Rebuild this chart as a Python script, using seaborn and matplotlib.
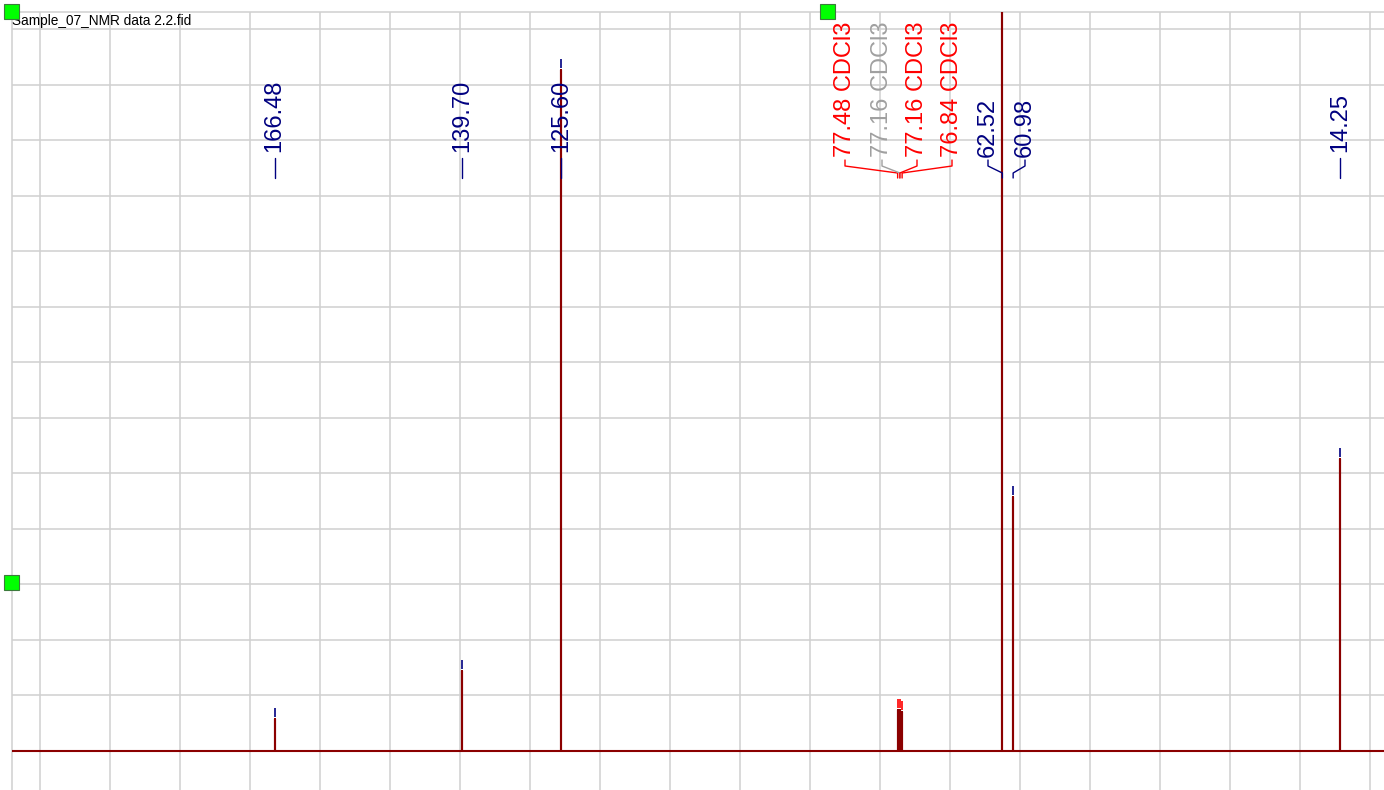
import numpy as np
import pandas as pd
import matplotlib
matplotlib.use("Agg")
import matplotlib.pyplot as plt
import matplotlib.transforms as mtransforms
from matplotlib.patches import Rectangle
import seaborn as sns

# ---------------- data ----------------
title = "Sample_07_NMR data 2.2.fid"
peak_shifts = [166.48, 139.70, 125.60, 77.48, 77.16, 76.84, 62.52, 60.98, 14.25]
peak_heights = [0.58, 1.44, 12.27, 0.74, 0.74, 0.70, 14.5, 4.58, 5.26]
peak_kind = ["compound", "compound", "compound", "solvent", "solvent", "solvent",
             "compound", "compound", "compound"]
label_texts = ["166.48", "139.70", "125.60", "77.48 CDCl3", "77.16 CDCl3",
               "77.16 CDCl3", "76.84 CDCl3", "62.52", "60.98", "14.25"]
label_shifts = [166.48, 139.70, 125.60, 77.48, 77.16, 77.16, 76.84, 62.52, 60.98, 14.25]
x_range = (204.0, 8.0)
x_grid = list(range(200, 9, -10))
y_grid = list(range(0, 14))

# ---------------- style ----------------
sns.set_theme(style="white")
plt.rcParams["font.family"] = ["Liberation Sans", "DejaVu Sans"]

W, H = 1384, 790
fig = plt.figure(figsize=(W / 100, H / 100), dpi=100)
fig.patch.set_facecolor("white")
ax = fig.add_axes([12 / W, 0, 1372 / W, 778 / H])

# stick spectrum built from peak list
order = np.argsort(peak_shifts)[::-1]
xs, ys = [x_range[0]], [0.0]
for i in order:
    s, h = peak_shifts[i], peak_heights[i]
    xs += [s, s, s]
    ys += [0.0, h, 0.0]
xs.append(x_range[1])
ys.append(0.0)
spec = pd.DataFrame({"ppm": xs, "intensity": ys})

sns.lineplot(data=spec, x="ppm", y="intensity", sort=False, estimator=None,
             color="#8b0000", lw=1.5, ax=ax, legend=False, zorder=3)

ax.set_xlim(*x_range)
ax.set_ylim(-0.703, 13.315)
ax.set_xticks(x_grid)
ax.set_yticks(y_grid)
grid_c = "#d0d0d0"
ax.grid(True, color=grid_c, lw=1.1)
ax.set_axisbelow(True)
ax.tick_params(length=0, labelbottom=False, labelleft=False)
ax.set_xlabel("")
ax.set_ylabel("")
for side in ["right", "bottom"]:
    ax.spines[side].set_visible(False)
for side in ["top", "left"]:
    ax.spines[side].set_color(grid_c)
    ax.spines[side].set_linewidth(1.1)

NAVY, RED, GRAY = "#000080", "#ff0000", "#a0a0a0"

# peak-top markers
for s, h, k in zip(peak_shifts, peak_heights, peak_kind):
    c = NAVY if k == "compound" else RED
    ax.plot([s, s], [h + 0.03, h + 0.2], color=c, lw=1.2, zorder=4,
            solid_capstyle="butt")

# label transforms (x in data, y in pixels from top)
pxT = mtransforms.Affine2D().scale(1 / W, -1 / H).translate(0, 1) + fig.transFigure
bT = mtransforms.blended_transform_factory(ax.transData, pxT)


def px2ppm(px):
    return x_range[0] - (px - 12) * (x_range[0] - x_range[1]) / 1372


label_colors = [NAVY, NAVY, NAVY, RED, GRAY, RED, RED, NAVY, NAVY, NAVY]
label_px = [None, None, None, 845, 882, 917, 952, 988, 1025, None]
fs = 17
for txt, s, c, lp in zip(label_texts, label_shifts, label_colors, label_px):
    if lp is None:
        ax.text(s, 152, txt, transform=bT, rotation=90, ha="center", va="bottom",
                color=c, fontsize=fs, clip_on=False, zorder=6)
        ax.plot([s, s], [158, 178], transform=bT, color=c, lw=1.0, clip_on=False,
                zorder=6)
    else:
        lx = px2ppm(lp)
        ax.text(lx, 157, txt, transform=bT, rotation=90, ha="center", va="bottom",
                color=c, fontsize=fs, clip_on=False, zorder=6)
        ax.plot([lx, lx, s, s], [160, 166, 173, 178], transform=bT, color=c, lw=1.0,
                clip_on=False, zorder=6)

# title and handles
fig.text(12 / W, 1 - 14 / H, title, ha="left", va="top", fontsize=9.8,
         color="black", zorder=5)
for (gx, gy) in [(4, 4), (820, 4), (4, 575)]:
    fig.add_artist(Rectangle((gx / W, 1 - (gy + 15) / H), 15 / W, 15 / H,
                             transform=fig.transFigure, facecolor="#00ff00",
                             edgecolor="#3c7a3c", lw=0.8, zorder=10))

fig.savefig("out.png", dpi=100)
